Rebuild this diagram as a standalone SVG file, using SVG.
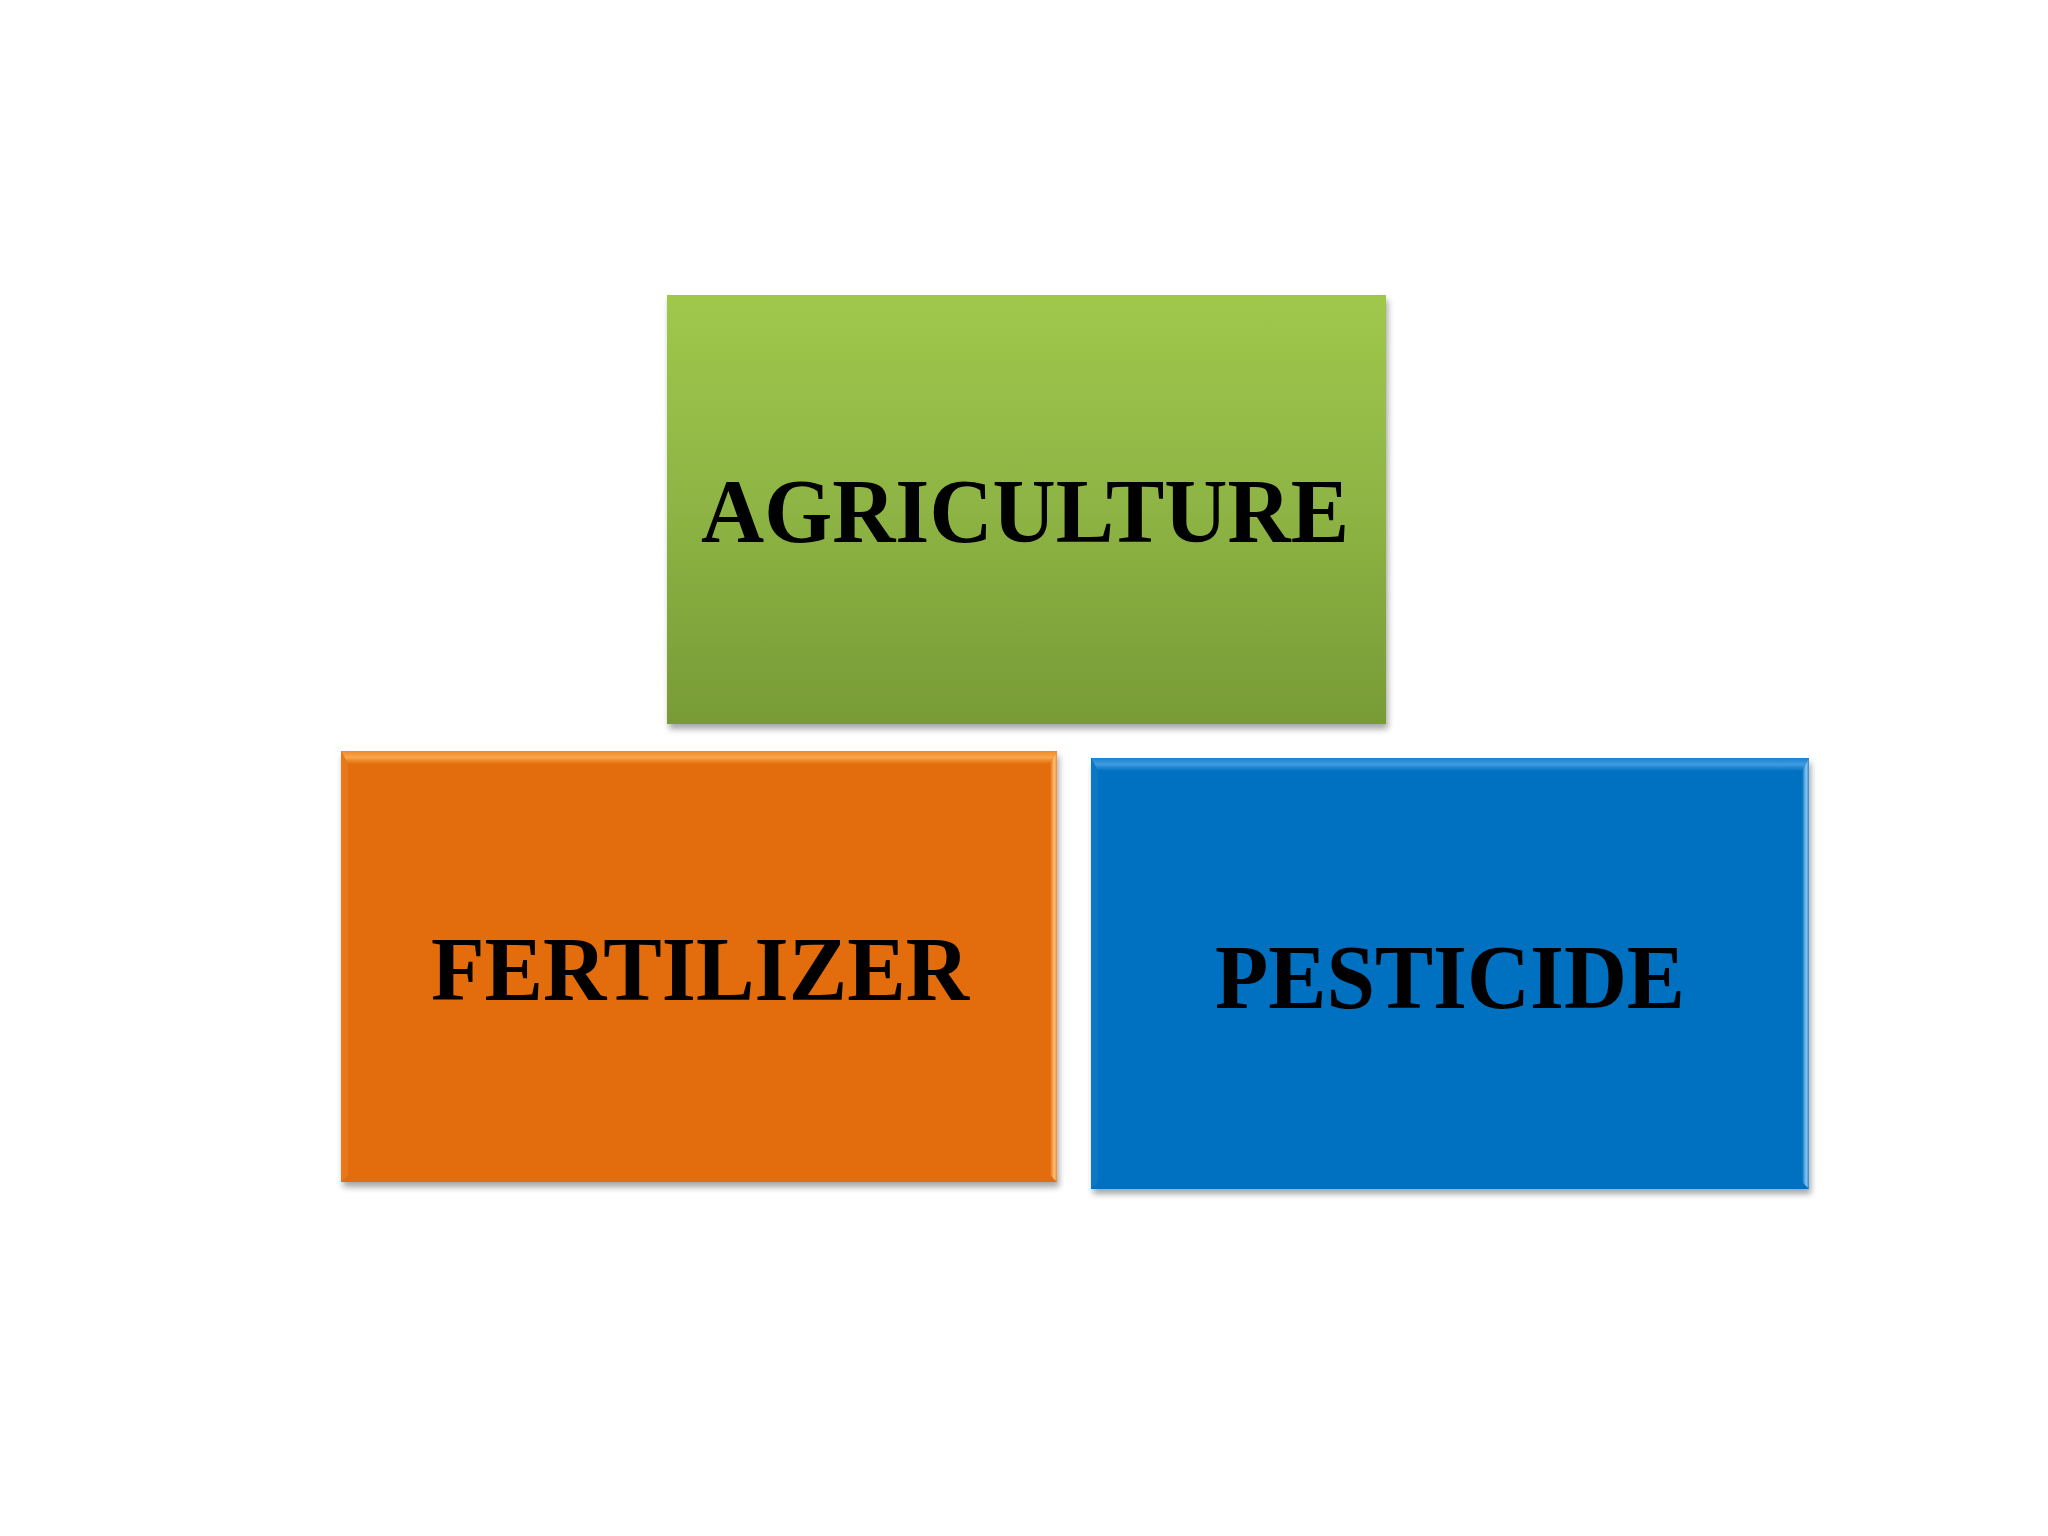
<svg xmlns="http://www.w3.org/2000/svg" width="2048" height="1536" viewBox="0 0 2048 1536">
<defs>
<linearGradient id="gGreen" x1="0" y1="0" x2="0" y2="1">
<stop offset="0" stop-color="#9fc84c"/>
<stop offset="0.5" stop-color="#8db444"/>
<stop offset="1" stop-color="#789b36"/>
</linearGradient>
<linearGradient id="gTopO" x1="0" y1="0" x2="0" y2="1">
<stop offset="0" stop-color="#f08a2a"/>
<stop offset="0.5" stop-color="#f7a64a"/>
<stop offset="1" stop-color="#e36c0a"/>
</linearGradient>
<linearGradient id="gRightO" x1="0" y1="0" x2="1" y2="0">
<stop offset="0" stop-color="#e36c0a"/>
<stop offset="0.6" stop-color="#fbc27a"/>
<stop offset="1" stop-color="#f08a2a"/>
</linearGradient>
<linearGradient id="gTopB" x1="0" y1="0" x2="0" y2="1">
<stop offset="0" stop-color="#1a82cf"/>
<stop offset="0.5" stop-color="#3f9be0"/>
<stop offset="1" stop-color="#0070c0"/>
</linearGradient>
<linearGradient id="gRightB" x1="0" y1="0" x2="1" y2="0">
<stop offset="0" stop-color="#0070c0"/>
<stop offset="0.6" stop-color="#8cc6f0"/>
<stop offset="1" stop-color="#2a8ad6"/>
</linearGradient>
<filter id="shadow" x="-5%" y="-5%" width="110%" height="115%">
<feGaussianBlur in="SourceAlpha" stdDeviation="3"/>
<feOffset dx="2" dy="5" result="b"/>
<feComponentTransfer><feFuncA type="linear" slope="0.35"/></feComponentTransfer>
<feMerge><feMergeNode/><feMergeNode in="SourceGraphic"/></feMerge>
</filter>
</defs>
<style>
.lbl{font-family:"Liberation Serif","Times New Roman",serif;font-weight:bold;font-size:91px;fill:#000;text-anchor:middle}
</style>
<rect width="2048" height="1536" fill="#ffffff"/>
<g id="agriculture">
<rect x="667" y="295" width="719" height="429" fill="url(#gGreen)" filter="url(#shadow)"/>
<text class="lbl" x="1025" y="542" textLength="648" lengthAdjust="spacingAndGlyphs">AGRICULTURE</text>
</g>
<g id="fertilizer">
<rect x="341" y="751" width="716" height="431" fill="#e36c0a" filter="url(#shadow)"/>
<polygon points="341,751 1057,751 1050,764 348,764" fill="url(#gTopO)"/>
<polygon points="1057,751 1057,1182 1050,1175 1050,764" fill="url(#gRightO)"/>
<polygon points="341,751 348,764 348,1175 341,1182" fill="#e8781a"/>
<text class="lbl" x="700" y="1000" textLength="538" lengthAdjust="spacingAndGlyphs">FERTILIZER</text>
</g>
<g id="pesticide">
<rect x="1091" y="758" width="718" height="431" fill="#0070c0" filter="url(#shadow)"/>
<polygon points="1091,758 1809,758 1802,771 1098,771" fill="url(#gTopB)"/>
<polygon points="1809,758 1809,1189 1802,1182 1802,771" fill="url(#gRightB)"/>
<polygon points="1091,758 1098,771 1098,1182 1091,1189" fill="#0a78c6"/>
<text class="lbl" x="1450" y="1008" textLength="470" lengthAdjust="spacingAndGlyphs">PESTICIDE</text>
</g>
<g id="connectors"/>
</svg>
